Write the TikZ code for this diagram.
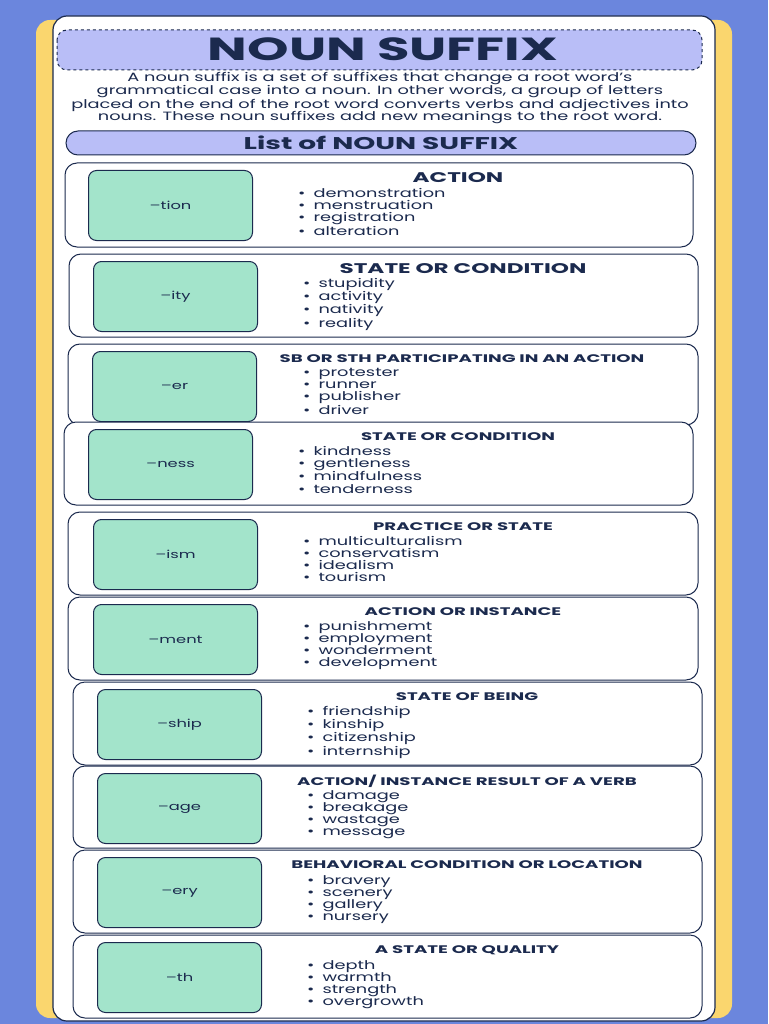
\documentclass[tikz,border=0pt]{standalone}
\usepackage{fontspec}
\setmainfont{Poppins}[FakeStretch=1.48]
\newfontfamily\widetitle{Poppins}[FakeStretch=1.65]
\definecolor{bgblue}{HTML}{6B86DD}
\definecolor{ylw}{HTML}{FAD66E}
\definecolor{navy}{HTML}{1B2A4E}
\definecolor{lav}{HTML}{B9BEF7}
\definecolor{mint}{HTML}{A3E4CB}
\tikzset{
  outerbox/.style={draw=navy,line width=1pt,fill=white,rounded corners=12pt},
  greenbox/.style={draw=navy,line width=1pt,fill=mint,rounded corners=8pt},
  suf/.style={font=\fontsize{11}{12}\selectfont,text=navy},
  head/.style={font=\widetitle\fontsize{#1}{12}\selectfont\bfseries,text=navy},
  item/.style={font=\fontsize{12}{12.2}\selectfont,text=navy,anchor=north west,align=left,inner sep=0pt}
}
\newcommand{\suffixrow}[9]{%
  \draw[outerbox] (#2,#3) rectangle (#4,#5);
  \node[greenbox,minimum width=164pt,minimum height=70pt,anchor=north west,suf] (g#1) at (#6,#3+7) {#7};
  \node[head=#8] (h#1) at (#6+370,#3+15) {#9};
}
\begin{document}
\begin{tikzpicture}[x=1pt,y=-1pt]
\useasboundingbox (0,0) rectangle (768,1024);
\fill[bgblue] (0,0) rectangle (768,1024);
\fill[ylw,rounded corners=14pt] (36,20) rectangle (732,1018);
\draw[navy,line width=1.2pt,fill=white,rounded corners=14pt] (53,16) rectangle (715,1021);
\draw[navy,dashed,line width=1pt,fill=lav,rounded corners=10pt] (57,30) rectangle (702,70);
\node[font=\widetitle\fontsize{32}{34}\selectfont\bfseries,text=navy] (title) at (383,49) {NOUN SUFFIX};
\node[font=\fontsize{12}{12.3}\selectfont,text=navy,align=center] (desc) at (380,98) {A noun suffix is a set of suffixes that change a root word’s\\grammatical case into a noun. In other words, a group of letters\\placed on the end of the root word converts verbs and adjectives into\\nouns. These noun suffixes add new meanings to the root word.};
\draw[navy,line width=1pt,fill=lav,rounded corners=12pt] (66,131) rectangle (696,155);
\node[font=\widetitle\fontsize{17}{17}\selectfont\bfseries,text=navy] (list) at (381,143) {List of NOUN SUFFIX};
%
\newcommand{\lst}[7]{%
  \node[item] (l#1) at (#2,#3) {\textbullet\hspace{8pt}#4\\\textbullet\hspace{8pt}#5\\\textbullet\hspace{8pt}#6\\\textbullet\hspace{8pt}#7};}
\suffixrow{1}{65}{163}{693}{247}{88}{–tion}{14}{ACTION}
\lst{1}{298}{188}{demonstration}{menstruation}{registration}{alteration}
\suffixrow{2}{69}{254}{698}{337}{93}{–ity}{14}{STATE OR CONDITION}
\lst{2}{303}{278}{stupidity}{activity}{nativity}{reality}
\suffixrow{3}{68}{344}{698}{425}{92}{–er}{11}{SB OR STH PARTICIPATING IN AN ACTION}
\lst{3}{303}{368}{protester}{runner}{publisher}{driver}
\suffixrow{4}{64}{422}{693}{505}{88}{–ness}{11}{STATE OR CONDITION}
\lst{4}{298}{446}{kindness}{gentleness}{mindfulness}{tenderness}
\suffixrow{5}{68}{512}{698}{595}{93}{–ism}{11}{PRACTICE OR STATE}
\lst{5}{303}{536}{multiculturalism}{conservatism}{idealism}{tourism}
\suffixrow{6}{68}{597}{698}{680}{93}{–ment}{11}{ACTION OR INSTANCE}
\lst{6}{303}{621}{punishmemt}{employment}{wonderment}{development}
\suffixrow{7}{73}{682}{702}{765}{97}{–ship}{11}{STATE OF BEING}
\lst{7}{307}{706}{friendship}{kinship}{citizenship}{internship}
\suffixrow{8}{73}{766}{702}{848}{97}{–age}{11}{ACTION/ INSTANCE RESULT OF A VERB}
\lst{8}{307}{790}{damage}{breakage}{wastage}{message}
\suffixrow{9}{73}{850}{702}{933}{97}{–ery}{11}{BEHAVIORAL CONDITION OR LOCATION}
\lst{9}{307}{875}{bravery}{scenery}{gallery}{nursery}
\suffixrow{10}{73}{935}{702}{1018}{97}{–th}{11}{A STATE OR QUALITY}
\lst{10}{307}{960}{depth}{warmth}{strength}{overgrowth}
\end{tikzpicture}
\end{document}
